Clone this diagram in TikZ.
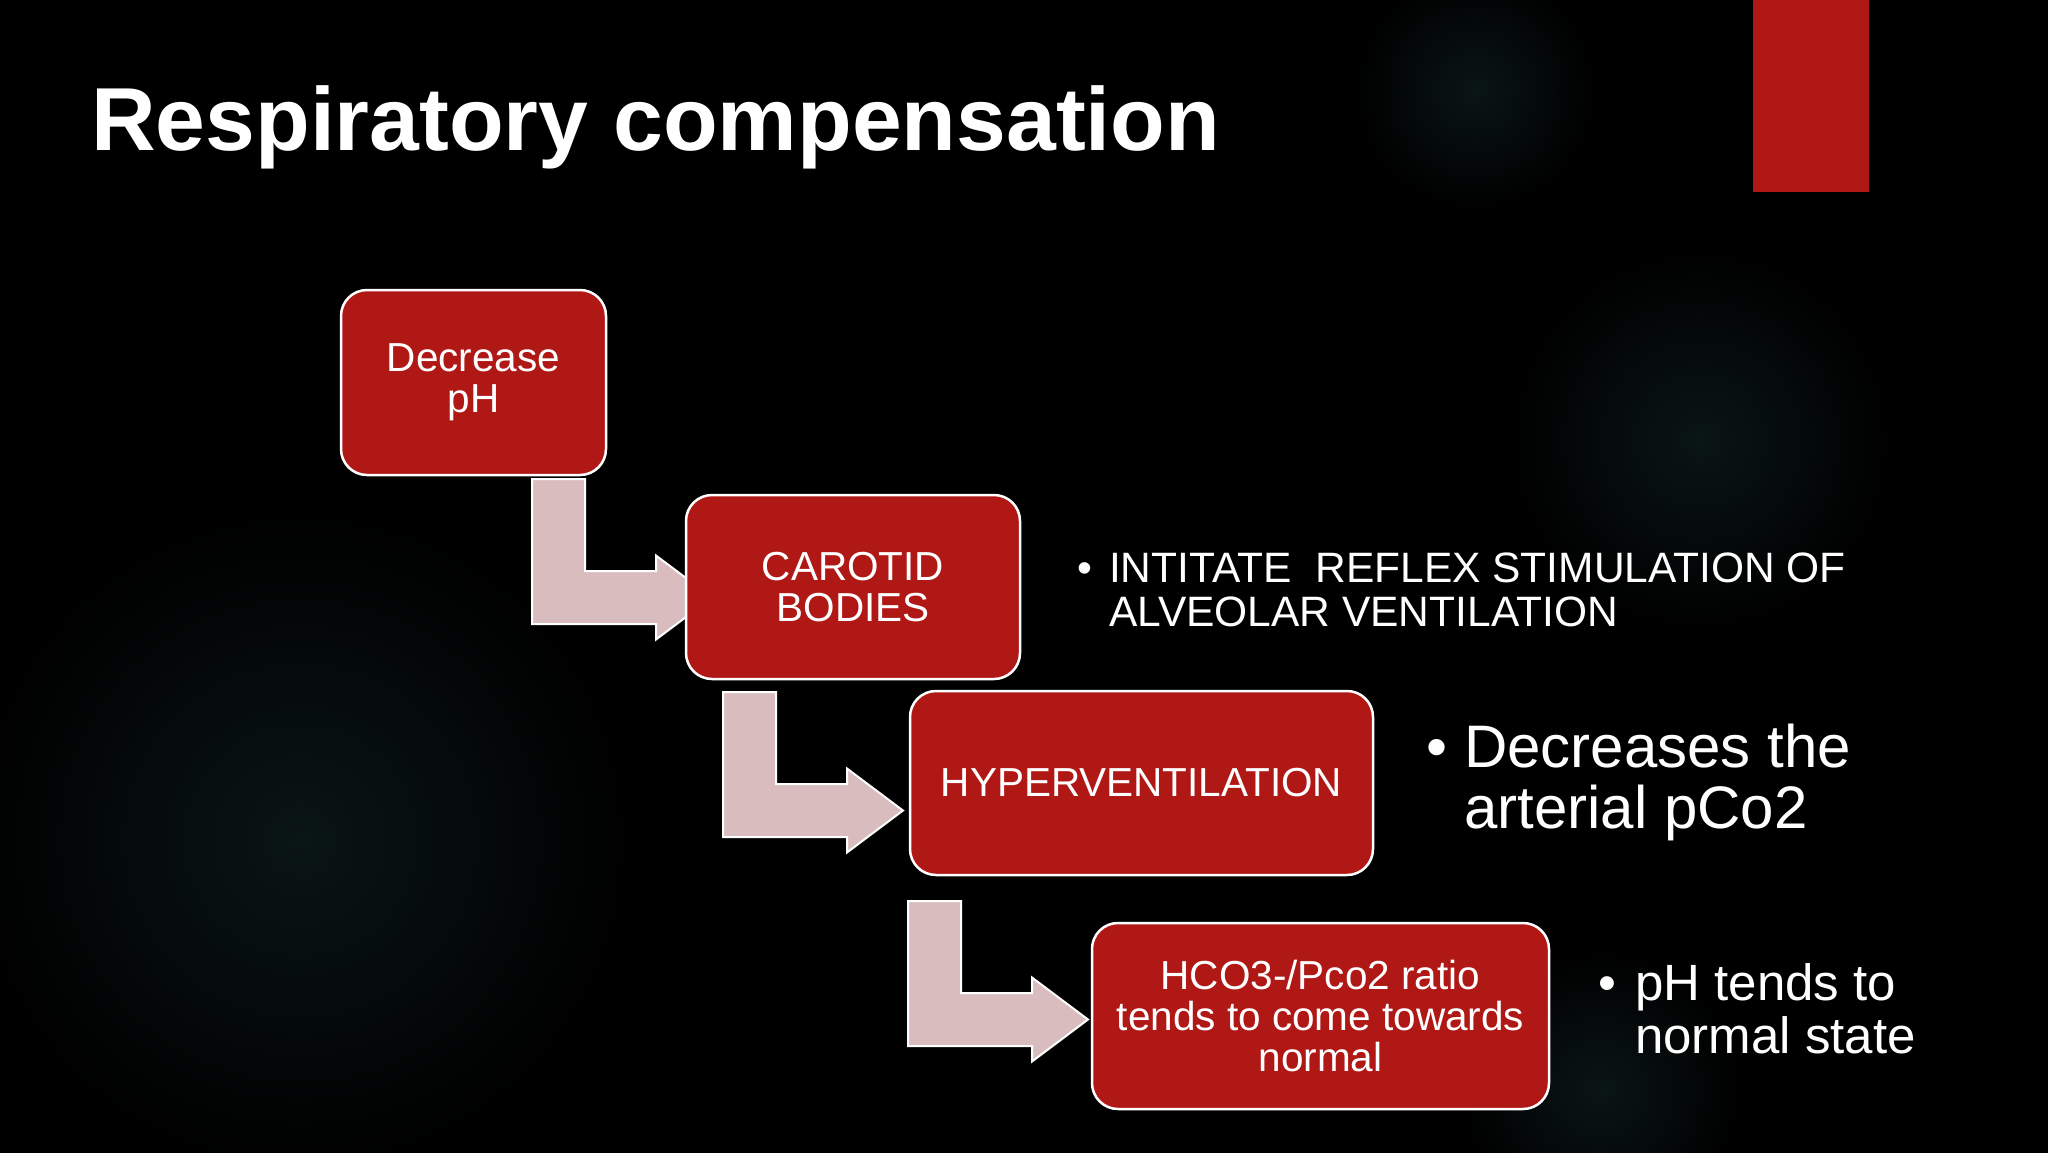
\documentclass[tikz,border=0pt]{standalone}
\usepackage{fontspec}
\setmainfont{Liberation Sans}
\usetikzlibrary{calc}
\definecolor{boxred}{RGB}{176,24,22}
\definecolor{arrowpink}{RGB}{217,189,190}
\definecolor{glow}{RGB}{10,21,21}
\pgfdeclarelayer{back}
\pgfdeclarelayer{mid}
\pgfsetlayers{back,mid,main}
\newcommand\bulitem[3]{\begin{tabular}[t]{@{}l@{}l@{}}\makebox[#1][l]{•}&#2\\&#3\end{tabular}}
\tikzset{
  stepbox/.style={draw=white, line width=2.5pt, fill=boxred, rounded corners=26pt,
    text=white, align=center, font=\fontsize{40.5}{41}\selectfont, inner sep=0pt},
  arrowstyle/.style={fill=arrowpink, draw=white, line width=2pt, line join=miter},
  bentarrow/.pic={\path[arrowstyle] (0,0) -- (53,0) -- (53,92) -- (124,92) -- (124,76.5)
      -- (180,118.5) -- (124,160.5) -- (124,145) -- (0,145) -- cycle;},
  note/.style={anchor=base west, text=white, inner sep=0pt},
  glowspot/.style={inner color=glow, outer color=black}
}
\begin{document}
\begin{tikzpicture}[x=1pt,y=-1pt]
\useasboundingbox (0,0) rectangle (2048,1152);
\begin{pgfonlayer}{back}
\fill[black] (-6,-6) rectangle (2054,1158);
\shade[glowspot] (1475,90) circle (120);
\shade[glowspot] (1700,440) circle (190);
\shade[glowspot] (300,840) circle (330);
\shade[glowspot] (1600,1090) circle (140);
\fill[boxred] (1753,-6) rectangle (1869,192);
\end{pgfonlayer}

\node[anchor=base west, text=white, inner sep=0pt, font=\fontsize{89.5}{100}\bfseries\selectfont] (title) at (91,150) {Respiratory compensation};

\node[stepbox, minimum width=265pt, minimum height=185pt] (b1) at (473.5,382.5) {Decrease\\pH};
\node[stepbox, minimum width=334pt, minimum height=184pt] (b2) at (853,587) {CAROTID\\BODIES};
\node[stepbox, minimum width=463pt, minimum height=184pt] (b3) at (1141.5,783) {HYPERVENTILATION};
\node[stepbox, minimum width=457pt, minimum height=186pt] (b4) at (1320.5,1016) {HCO3-/Pco2 ratio\\tends to come towards\\normal};

\begin{pgfonlayer}{mid}
\coordinate (a1) at (532,479);
\coordinate (a2) at (723,692);
\coordinate (a3) at (908,901);
\pic at (a1) {bentarrow};
\pic at (a2) {bentarrow};
\pic at (a3) {bentarrow};
\end{pgfonlayer}

\node[note, font=\fontsize{42.5}{44}\selectfont] (n1) at (1077,582) {\bulitem{32pt}{INTITATE\ \ REFLEX STIMULATION OF}{ALVEOLAR VENTILATION}};
\node[note, font=\fontsize{60}{61}\selectfont] (n2) at (1426,767) {\bulitem{38pt}{Decreases the}{arterial pCo2}};
\node[note, font=\fontsize{51}{53}\selectfont] (n3) at (1598,1000) {\bulitem{37pt}{pH tends to}{normal state}};
\end{tikzpicture}
\end{document}
